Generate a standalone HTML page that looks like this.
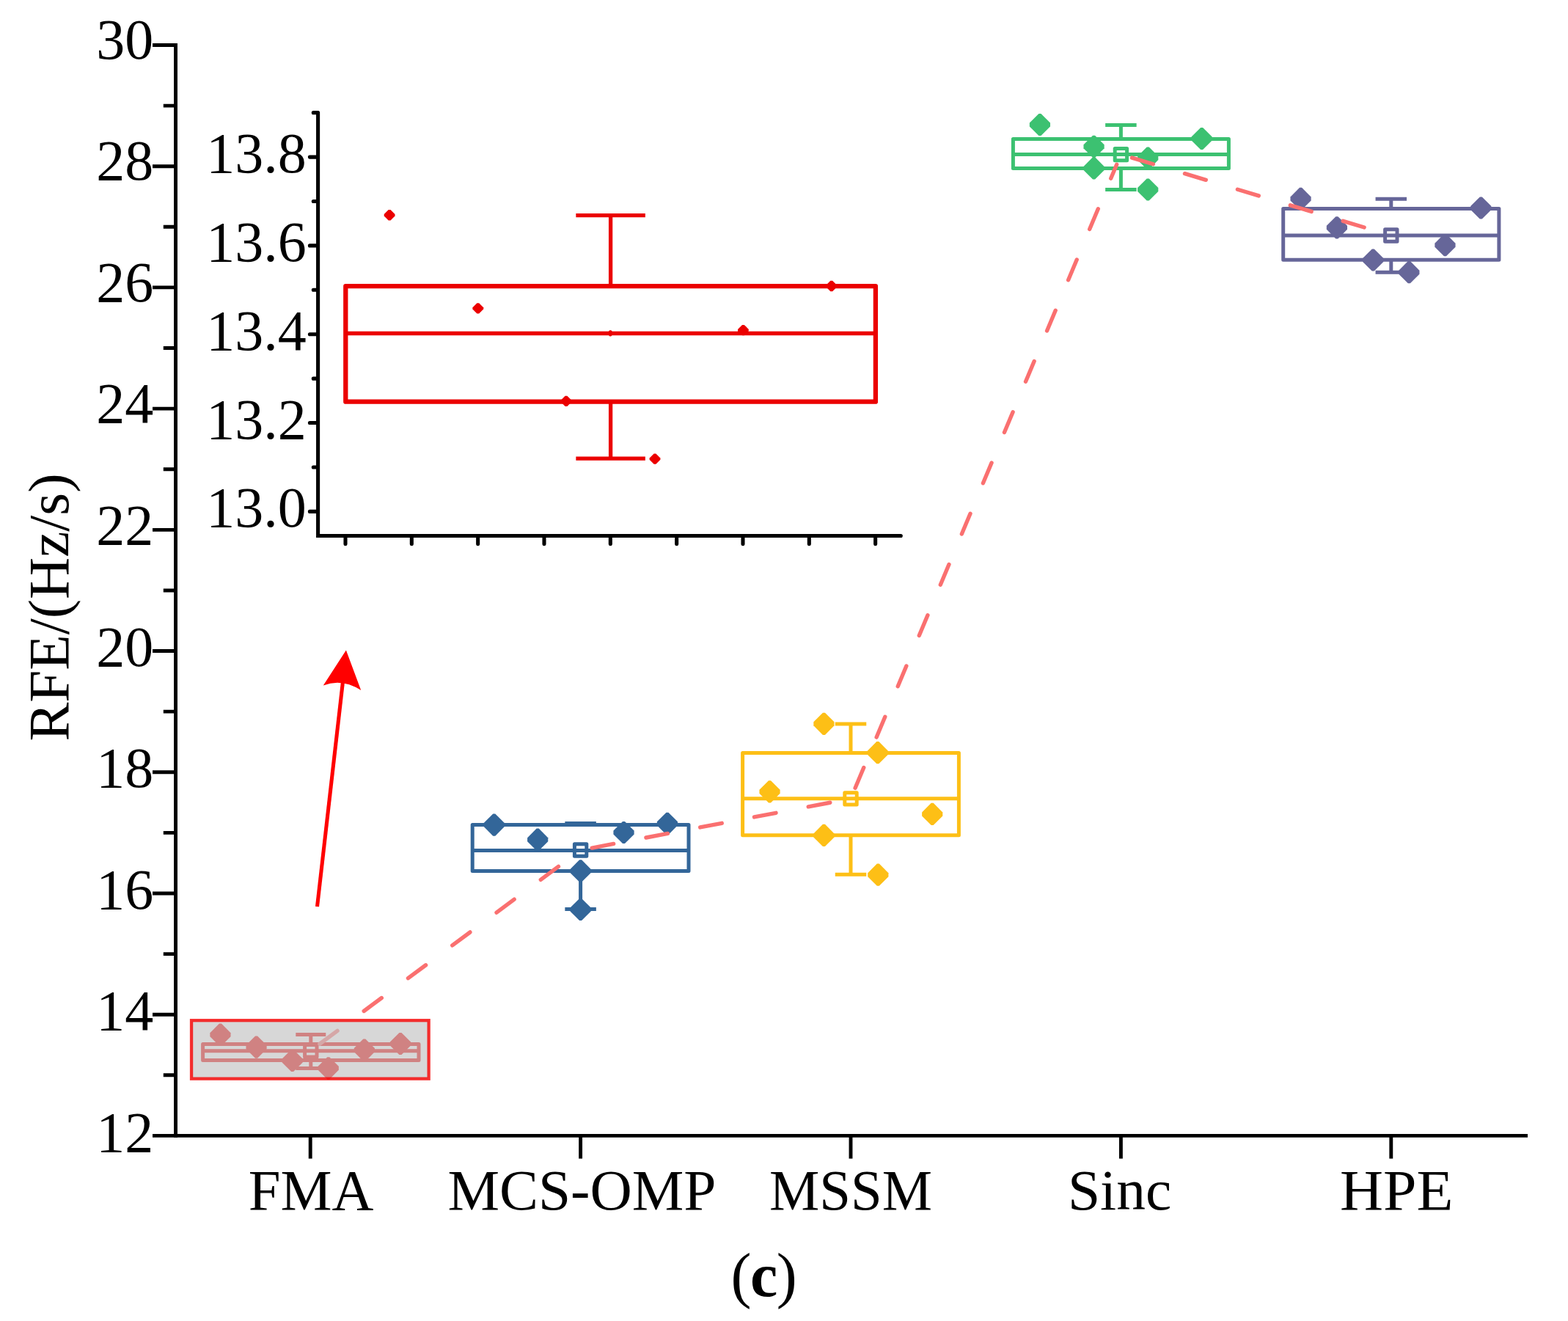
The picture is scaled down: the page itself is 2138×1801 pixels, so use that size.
<!DOCTYPE html>
<html lang="en">
<head>
<meta charset="utf-8">
<title>RFE box plot (c)</title>
<style>
html,body{margin:0;padding:0;background:#fff;}
body{width:2138px;height:1801px;overflow:hidden;}
svg{display:block;}
text{font-family:"Liberation Serif","DejaVu Serif",serif;fill:#000;}
</style>
</head>
<body>
<svg width="2138" height="1801" viewBox="0 0 2138 1801">
<rect width="2138" height="1801" fill="#fff"/>

<g id="main-axes" stroke="#000" stroke-width="4.9" fill="none">
<path d="M239.55 59.05V1550.85"/>
<path d="M208 1548.4H2083"/>
<path d="M208 61.5H239.55M222.8 144.11H239.55"/>
<path d="M208 226.71H239.55M222.8 309.32H239.55"/>
<path d="M208 391.92H239.55M222.8 474.53H239.55"/>
<path d="M208 557.13H239.55M222.8 639.74H239.55"/>
<path d="M208 722.34H239.55M222.8 804.95H239.55"/>
<path d="M208 887.56H239.55M222.8 970.16H239.55"/>
<path d="M208 1052.77H239.55M222.8 1135.37H239.55"/>
<path d="M208 1217.98H239.55M222.8 1300.58H239.55"/>
<path d="M208 1383.19H239.55M222.8 1465.79H239.55"/>
<path d="M423.2 1548.4V1579.6"/>
<path d="M791.6 1548.4V1579.6"/>
<path d="M1160 1548.4V1579.6"/>
<path d="M1528.4 1548.4V1579.6"/>
<path d="M1896.8 1548.4V1579.6"/>
</g>
<g id="ylabels" font-size="78" text-anchor="end">
<text x="209.2" y="79.6">30</text>
<text x="209.2" y="245.21">28</text>
<text x="209.2" y="410.82">26</text>
<text x="209.2" y="576.43">24</text>
<text x="209.2" y="742.04">22</text>
<text x="209.2" y="907.65">20</text>
<text x="209.2" y="1073.26">18</text>
<text x="209.2" y="1238.87">16</text>
<text x="209.2" y="1404.48">14</text>
<text x="209.2" y="1570.09">12</text>
</g>
<g id="xlabels" font-size="78" text-anchor="middle">
<text x="424.1" y="1648.8" textLength="170.8" lengthAdjust="spacingAndGlyphs">FMA</text>
<text x="793.45" y="1648.8" textLength="366" lengthAdjust="spacingAndGlyphs">MCS-OMP</text>
<text x="1160" y="1648.8" textLength="222" lengthAdjust="spacingAndGlyphs">MSSM</text>
<text x="1526.6" y="1648.8" textLength="141.4" lengthAdjust="spacingAndGlyphs">Sinc</text>
<text x="1904.3" y="1648.8" textLength="154.4" lengthAdjust="spacingAndGlyphs">HPE</text>
</g>
<text id="ytitle" font-size="78" text-anchor="middle" textLength="365" lengthAdjust="spacingAndGlyphs" transform="translate(92.5 828) rotate(-90)">RFE/(Hz/s)</text>
<text id="caption" font-size="84" text-anchor="middle" x="1041.6" y="1767.3">(<tspan font-weight="bold" dx="-1.6">c</tspan><tspan dx="-1.6">)</tspan></text>
<g id="fma">
<path d="M423.8 1423.5V1410.4M423.8 1445.4V1456.4M403.3 1410.4H444.3M403.3 1456.4H444.3" stroke="#eb0000" stroke-width="5.0" fill="none"/>
<rect x="276.6" y="1423.5" width="294.4" height="21.9" fill="none" stroke="#eb0000" stroke-width="5.0" stroke-linejoin="round"/>
<path d="M276.6 1432.7H571" stroke="#eb0000" stroke-width="5.0" fill="none"/>
<rect x="415.6" y="1424.5" width="16.4" height="16.4" fill="none" stroke="#eb0000" stroke-width="5.0" stroke-linejoin="round"/>
<polygon points="286.35,1408.2 298.95,1395.6 301.95,1395.6 314.55,1408.2 314.55,1413.2 301.95,1425.8 298.95,1425.8 286.35,1413.2" fill="#eb0000"/>
<polygon points="335.45,1425.1 348.05,1412.5 351.05,1412.5 363.65,1425.1 363.65,1430.1 351.05,1442.7 348.05,1442.7 335.45,1430.1" fill="#eb0000"/>
<polygon points="384.55,1443.5 397.15,1430.9 400.15,1430.9 412.75,1443.5 412.75,1448.5 400.15,1461.1 397.15,1461.1 384.55,1448.5" fill="#eb0000"/>
<polygon points="433.65,1453.8 446.25,1441.2 449.25,1441.2 461.85,1453.8 461.85,1458.8 449.25,1471.4 446.25,1471.4 433.65,1458.8" fill="#eb0000"/>
<polygon points="482.75,1429.1 495.35,1416.5 498.35,1416.5 510.95,1429.1 510.95,1434.1 498.35,1446.7 495.35,1446.7 482.75,1434.1" fill="#eb0000"/>
<polygon points="531.85,1420.5 544.45,1407.9 547.45,1407.9 560.05,1420.5 560.05,1425.5 547.45,1438.1 544.45,1438.1 531.85,1425.5" fill="#eb0000"/>
</g>
<g id="mcs">
<path d="M791.6 1124.6V1122.5M791.6 1187.4V1239.5M770.35 1122.5H812.85M770.35 1239.5H812.85" stroke="#336699" stroke-width="5.0" fill="none"/>
<rect x="644.2" y="1124.6" width="294.8" height="62.8" fill="none" stroke="#336699" stroke-width="5.0" stroke-linejoin="round"/>
<path d="M644.2 1159.4H939" stroke="#336699" stroke-width="5.0" fill="none"/>
<rect x="783.4" y="1150.8" width="16.4" height="16.4" fill="none" stroke="#336699" stroke-width="5.0" stroke-linejoin="round"/>
<polygon points="659.66,1122.1 672.26,1109.5 675.26,1109.5 687.86,1122.1 687.86,1127.1 675.26,1139.7 672.26,1139.7 659.66,1127.1" fill="#336699"/>
<polygon points="719.07,1142.2 731.67,1129.6 734.67,1129.6 747.27,1142.2 747.27,1147.2 734.67,1159.8 731.67,1159.8 719.07,1147.2" fill="#336699"/>
<polygon points="836.42,1132.5 849.02,1119.9 852.02,1119.9 864.62,1132.5 864.62,1137.5 852.02,1150.1 849.02,1150.1 836.42,1137.5" fill="#336699"/>
<polygon points="895.83,1120.3 908.43,1107.7 911.43,1107.7 924.03,1120.3 924.03,1125.3 911.43,1137.9 908.43,1137.9 895.83,1125.3" fill="#336699"/>
<polygon points="777.5,1184.9 790.1,1172.3 793.1,1172.3 805.7,1184.9 805.7,1189.9 793.1,1202.5 790.1,1202.5 777.5,1189.9" fill="#336699"/>
<polygon points="777.5,1237.5 790.1,1224.9 793.1,1224.9 805.7,1237.5 805.7,1242.5 793.1,1255.1 790.1,1255.1 777.5,1242.5" fill="#336699"/>
</g>
<g id="mssm">
<path d="M1160 1026.4V986.9M1160 1138.85V1192.3M1138.75 986.9H1181.25M1138.75 1192.3H1181.25" stroke="#fdbf16" stroke-width="5.0" fill="none"/>
<rect x="1012.6" y="1026.4" width="294.8" height="112.45" fill="none" stroke="#fdbf16" stroke-width="5.0" stroke-linejoin="round"/>
<path d="M1012.6 1088.85H1307.4" stroke="#fdbf16" stroke-width="5.0" fill="none"/>
<rect x="1151.8" y="1080.65" width="16.4" height="16.4" fill="none" stroke="#fdbf16" stroke-width="5.0" stroke-linejoin="round"/>
<polygon points="1109.32,984.3 1121.92,971.7 1124.92,971.7 1137.52,984.3 1137.52,989.3 1124.92,1001.9 1121.92,1001.9 1109.32,989.3" fill="#fdbf16"/>
<polygon points="1182.73,1023.7 1195.33,1011.1 1198.33,1011.1 1210.92,1023.7 1210.92,1028.7 1198.33,1041.3 1195.33,1041.3 1182.73,1028.7" fill="#fdbf16"/>
<polygon points="1035.43,1076.8 1048.03,1064.2 1051.03,1064.2 1063.62,1076.8 1063.62,1081.8 1051.03,1094.4 1048.03,1094.4 1035.43,1081.8" fill="#fdbf16"/>
<polygon points="1257.11,1107.4 1269.71,1094.8 1272.71,1094.8 1285.31,1107.4 1285.31,1112.4 1272.71,1125 1269.71,1125 1257.11,1112.4" fill="#fdbf16"/>
<polygon points="1109.32,1136.4 1121.92,1123.8 1124.92,1123.8 1137.52,1136.4 1137.52,1141.4 1124.92,1154 1121.92,1154 1109.32,1141.4" fill="#fdbf16"/>
<polygon points="1183.22,1190.2 1195.82,1177.6 1198.82,1177.6 1211.42,1190.2 1211.42,1195.2 1198.82,1207.8 1195.82,1207.8 1183.22,1195.2" fill="#fdbf16"/>
</g>
<g id="sinc">
<path d="M1528.4 189.5V170.4M1528.4 229.6V258.6M1507.15 170.4H1549.65M1507.15 258.6H1549.65" stroke="#3cc171" stroke-width="5.0" fill="none"/>
<rect x="1381.4" y="189.5" width="294" height="40.1" fill="none" stroke="#3cc171" stroke-width="5.0" stroke-linejoin="round"/>
<path d="M1381.4 210.6H1675.4" stroke="#3cc171" stroke-width="5.0" fill="none"/>
<rect x="1520.2" y="202.4" width="16.4" height="16.4" fill="none" stroke="#3cc171" stroke-width="5.0" stroke-linejoin="round"/>
<polygon points="1403.83,167.5 1416.42,154.9 1419.42,154.9 1432.02,167.5 1432.02,172.5 1419.42,185.1 1416.42,185.1 1403.83,172.5" fill="#3cc171"/>
<polygon points="1477.47,197.3 1490.07,184.7 1493.07,184.7 1505.67,197.3 1505.67,202.3 1493.07,214.9 1490.07,214.9 1477.47,202.3" fill="#3cc171"/>
<polygon points="1477.47,226.9 1490.07,214.3 1493.07,214.3 1505.67,226.9 1505.67,231.9 1493.07,244.5 1490.07,244.5 1477.47,231.9" fill="#3cc171"/>
<polygon points="1551.12,213.1 1563.72,200.5 1566.72,200.5 1579.32,213.1 1579.32,218.1 1566.72,230.7 1563.72,230.7 1551.12,218.1" fill="#3cc171"/>
<polygon points="1551.12,256 1563.72,243.4 1566.72,243.4 1579.32,256 1579.32,261 1566.72,273.6 1563.72,273.6 1551.12,261" fill="#3cc171"/>
<polygon points="1624.53,186.5 1637.13,173.9 1640.13,173.9 1652.73,186.5 1652.73,191.5 1640.13,204.1 1637.13,204.1 1624.53,191.5" fill="#3cc171"/>
</g>
<g id="hpe">
<path d="M1896.8 284.5V271.3M1896.8 354.15V371.35M1875.55 271.3H1918.05M1875.55 371.35H1918.05" stroke="#666699" stroke-width="5.0" fill="none"/>
<rect x="1749.7" y="284.5" width="294.2" height="69.65" fill="none" stroke="#666699" stroke-width="5.0" stroke-linejoin="round"/>
<path d="M1749.7 321H2043.9" stroke="#666699" stroke-width="5.0" fill="none"/>
<rect x="1888.6" y="312.8" width="16.4" height="16.4" fill="none" stroke="#666699" stroke-width="5.0" stroke-linejoin="round"/>
<polygon points="1759.46,268.4 1772.06,255.8 1775.06,255.8 1787.66,268.4 1787.66,273.4 1775.06,286 1772.06,286 1759.46,273.4" fill="#666699"/>
<polygon points="1808.8,307.8 1821.4,295.2 1824.4,295.2 1837,307.8 1837,312.8 1824.4,325.4 1821.4,325.4 1808.8,312.8" fill="#666699"/>
<polygon points="1858.15,352 1870.75,339.4 1873.75,339.4 1886.35,352 1886.35,357 1873.75,369.6 1870.75,369.6 1858.15,357" fill="#666699"/>
<polygon points="1907.25,368.7 1919.85,356.1 1922.85,356.1 1935.45,368.7 1935.45,373.7 1922.85,386.3 1919.85,386.3 1907.25,373.7" fill="#666699"/>
<polygon points="1956.35,331.7 1968.95,319.1 1971.95,319.1 1984.55,331.7 1984.55,336.7 1971.95,349.3 1968.95,349.3 1956.35,336.7" fill="#666699"/>
<polygon points="2005.2,281 2017.8,268.4 2020.8,268.4 2033.4,281 2033.4,286 2020.8,298.6 2017.8,298.6 2005.2,286" fill="#666699"/>
</g>
<path id="meanline" d="M435.88 1423.28L460.04 1405.33M496.17 1378.49L520.33 1360.54M556.45 1333.7L580.61 1315.75M616.73 1288.92L640.9 1270.96M677.02 1244.13L701.18 1226.18M737.3 1199.34L761.46 1181.39M807.12 1156.05L836.69 1150.42M880.9 1142.01L910.47 1136.38M954.67 1127.97L984.24 1122.34M1028.45 1113.93L1058.02 1108.31M1102.23 1099.89L1131.8 1094.27M1166.11 1074.33L1177.75 1046.57M1195.16 1005.08L1206.8 977.32M1224.21 935.82L1235.85 908.06M1253.26 866.57L1264.9 838.81M1282.31 797.31L1293.95 769.55M1311.35 728.06L1323 700.3M1340.4 658.8L1352.05 631.05M1369.45 589.55L1381.09 561.79M1398.5 520.29L1410.14 492.54M1427.55 451.04L1439.19 423.28M1456.6 381.78L1468.24 354.03M1485.65 312.53L1497.29 284.77M1514.69 243.28L1522.68 224.25M1543.54 215.14L1572.37 223.78M1615.47 236.69L1644.31 245.33M1687.41 258.25L1716.25 266.89M1759.35 279.81L1788.19 288.45M1831.29 301.37L1860.12 310.01" fill="none" stroke="#fa7070" stroke-width="5.4" stroke-linecap="round"/>
<rect id="hl" x="261.05" y="1391.2" width="323.6" height="79.5" fill="#c3c3c3" fill-opacity="0.667" stroke="#f60c0c" stroke-opacity="0.85" stroke-width="4.3"/>
<g id="arrow"><path d="M432.5 1236L467.6 928.5" stroke="#ff0000" stroke-width="5.1" fill="none"/><path d="M471.9 886.6L492.2 941Q466.5 924.5 440.8 934.4Z" fill="#ff0000"/></g>
<g id="inset-axes" stroke="#000" stroke-width="5.1" fill="none" stroke-linecap="round">
<path d="M433.6 153.5V730.5H1228.3"/>
<path d="M422.4 697.4H432.6M427.3 636.99H432.6"/>
<path d="M422.4 576.57H432.6M427.3 516.15H432.6"/>
<path d="M422.4 455.74H432.6M427.3 395.32H432.6"/>
<path d="M422.4 334.91H432.6M427.3 274.49H432.6"/>
<path d="M422.4 214.08H432.6M427.3 153.66H432.6"/>
<path d="M471 731.5V741.6"/>
<path d="M561.33 731.5V741.6"/>
<path d="M651.66 731.5V741.6"/>
<path d="M741.99 731.5V741.6"/>
<path d="M832.32 731.5V741.6"/>
<path d="M922.65 731.5V741.6"/>
<path d="M1012.98 731.5V741.6"/>
<path d="M1103.31 731.5V741.6"/>
<path d="M1193.64 731.5V741.6"/>
</g>
<g id="inset-labels" font-size="78" text-anchor="end">
<text x="417.8" y="718.4">13.0</text>
<text x="417.8" y="597.57">13.2</text>
<text x="417.8" y="476.74">13.4</text>
<text x="417.8" y="355.91">13.6</text>
<text x="417.8" y="235.08">13.8</text>
</g>
<g id="inset-box">
<path d="M832.6 390.2V293.7M832.6 547.7V625.2M785.35 293.7H879.85M785.35 625.2H879.85" stroke="#eb0000" stroke-width="5.3" fill="none"/>
<rect x="471.3" y="390.2" width="722.6" height="157.5" fill="none" stroke="#eb0000" stroke-width="6.3" stroke-linejoin="round"/>
<path d="M471.3 454.5H1193.9" stroke="#eb0000" stroke-width="5.7" fill="none"/>
<polygon points="828,453.7 831.4,450.3 833.2,450.3 836.6,453.7 836.6,455.1 833.2,458.5 831.4,458.5 828,455.1" fill="#eb0000"/>
<polygon points="523.7,292.1 529.7,286.1 532.5,286.1 538.5,292.1 538.5,294.5 532.5,300.5 529.7,300.5 523.7,294.5" fill="#eb0000"/>
<polygon points="644.4,419.2 650.4,413.2 653.2,413.2 659.2,419.2 659.2,421.6 653.2,427.6 650.4,427.6 644.4,421.6" fill="#eb0000"/>
<polygon points="764.6,545.7 770.6,539.7 773.4,539.7 779.4,545.7 779.4,548.1 773.4,554.1 770.6,554.1 764.6,548.1" fill="#eb0000"/>
<polygon points="1006,448.9 1012,442.9 1014.8,442.9 1020.8,448.9 1020.8,451.3 1014.8,457.3 1012,457.3 1006,451.3" fill="#eb0000"/>
<polygon points="1126.3,388.8 1132.3,382.8 1135.1,382.8 1141.1,388.8 1141.1,391.2 1135.1,397.2 1132.3,397.2 1126.3,391.2" fill="#eb0000"/>
<polygon points="885.6,624.4 891.6,618.4 894.4,618.4 900.4,624.4 900.4,626.8 894.4,632.8 891.6,632.8 885.6,626.8" fill="#eb0000"/>
</g>
</svg>
</body>
</html>
